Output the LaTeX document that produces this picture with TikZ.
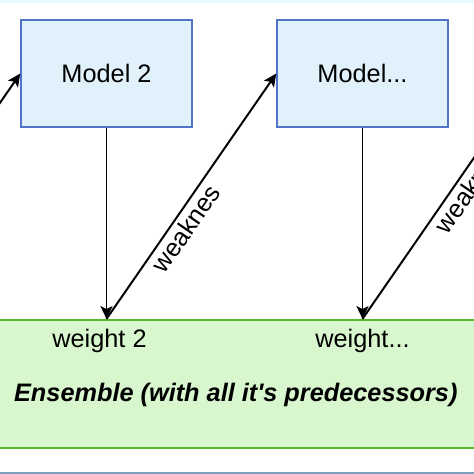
\documentclass[tikz,border=0pt]{standalone}
\usepackage{fontspec}
\setmainfont{Liberation Sans}
\usetikzlibrary{positioning, arrows.meta, calc}
\definecolor{modelfill}{RGB}{225,241,252}
\definecolor{modeldraw}{RGB}{79,116,200}
\definecolor{ensfill}{RGB}{217,247,207}
\definecolor{ensdraw}{RGB}{93,181,46}
\definecolor{rowfill}{RGB}{224,240,250}
\definecolor{rowdraw}{RGB}{122,160,188}
\definecolor{topfill}{RGB}{232,250,252}
\tikzstyle{model} = [rectangle, minimum width=4.275cm, minimum height=2.675cm, text centered, draw=modeldraw, fill=modelfill, line width=1.1pt]
\tikzstyle{ensemble} = [rectangle, minimum width=13cm, minimum height=3.21cm, draw=ensdraw, fill=ensfill, line width=1.3pt]
\tikzstyle{weight} = [inner sep=2.5pt]
\tikzstyle{arrow} = [line width=1.4pt, -{Stealth[length=9pt,width=8.5pt,inset=2pt]}]

\begin{document}
\begin{tikzpicture}[node distance=6.4cm, font=\fontsize{18}{21}\selectfont]
\useasboundingbox (0,0) rectangle (11.85,-11.85);
\clip (0,0) rectangle (11.85,-11.85);
% edges of the rows above and below
\fill [topfill] (-1,0.5) rectangle (13,-0.07);
\draw [draw=rowdraw, fill=rowfill, line width=1.2pt] (-1,-11.82) rectangle (13,-13);

\node (model2) [model] at (2.6625,-1.84) {Model 2};
\node (modeln) [model, right of=model2] {Model...};

\node (ens) [ensemble] at (5.925,-9.6) {};
\node (enstext) [font=\fontsize{18}{21}\selectfont\bfseries\itshape] at ($(ens.center)+(-0.03,-0.27)$) {Ensemble (with all it\textquotesingle s predecessors)};

\coordinate (w2in) at (model2.south |- ens.north);
\coordinate (wnin) at (modeln.south |- ens.north);
\coordinate (prevout) at ($(w2in)+(-6.4,0)$);
\coordinate (nextin) at ($(modeln.west)+(6.4,0)$);

\node (w2) [weight, below of=w2in, node distance=0.55cm, xshift=-0.175cm] {weight 2};
\node (wn) [weight, below of=wnin, node distance=0.55cm] {weight...};

\draw [arrow] (prevout) -- (model2.west);
\draw [arrow] (model2) -- (w2in);
\draw [arrow] (w2in) -- node[pos=0.4, sloped, below, weight] {weaknes} (modeln.west);
\draw [arrow] (modeln) -- (wnin);
\draw [arrow] (wnin) -- node[pos=0.56, sloped, below, weight] {weaknes} (nextin);

\end{tikzpicture}
\end{document}
